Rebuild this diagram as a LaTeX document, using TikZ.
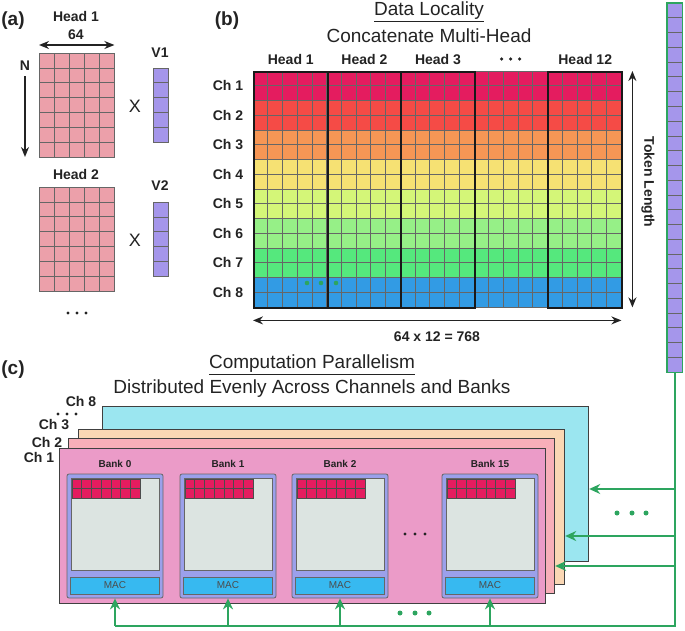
\documentclass[tikz,border=0pt]{standalone}
\usepackage{fontspec}
\setmainfont{Liberation Sans}
\usepackage{xcolor}
\usepackage{tikz}
\definecolor{inkgray}{RGB}{35, 35, 35}
\definecolor{cellpink}{RGB}{236, 160, 170}
\definecolor{vecpurple}{RGB}{165, 150, 235}
\definecolor{linkgreen}{RGB}{45, 165, 95}
\definecolor{chA}{RGB}{228, 28, 95}
\definecolor{chB}{RGB}{245, 75, 70}
\definecolor{chC}{RGB}{246, 150, 85}
\definecolor{chD}{RGB}{246, 225, 115}
\definecolor{chE}{RGB}{212, 246, 120}
\definecolor{chF}{RGB}{150, 240, 135}
\definecolor{chG}{RGB}{85, 232, 125}
\definecolor{chH}{RGB}{50, 155, 228}
\definecolor{planecyan}{RGB}{155, 230, 240}
\definecolor{planepeach}{RGB}{250, 215, 180}
\definecolor{planerose}{RGB}{248, 175, 185}
\definecolor{planemagenta}{RGB}{235, 155, 200}
\definecolor{banklav}{RGB}{155, 160, 235}
\definecolor{memgray}{RGB}{220, 228, 225}
\definecolor{macblue}{RGB}{55, 185, 240}
\usetikzlibrary{arrows.meta, positioning, calc}

\begin{document}
\begin{tikzpicture}[
    x=1pt, y=-1pt,
    tag/.style={font=\fontsize{19}{22}\selectfont\bfseries, text=inkgray, inner sep=0pt},
    lbl/.style={font=\fontsize{14}{16}\selectfont\bfseries, text=inkgray, inner sep=1pt},
    title/.style={font=\fontsize{19}{22}\selectfont, text=inkgray, inner sep=0pt},
    cell/.style={draw=black!60, line width=0.6pt},
    mat/.style={inner sep=0pt, minimum width=75pt, minimum height=104pt, anchor=north west},
    headblk/.style={draw=black!90, line width=2pt, inner sep=0pt, minimum width=73.6pt, minimum height=236pt, anchor=north west},
    plane/.style={draw=black!75, line width=1.2pt, minimum width=486pt, minimum height=155pt, anchor=north west, inner sep=0pt},
    bank/.style={draw=black!60, fill=banklav, rounded corners=2pt, line width=0.8pt, minimum width=96pt, minimum height=124pt, inner sep=0pt},
    banktitle/.style={font=\fontsize{10}{12}\selectfont\bfseries, text=inkgray, inner sep=0pt},
    mac/.style={draw=black!60, fill=macblue, line width=0.6pt, minimum width=89pt, minimum height=17pt, inner sep=0pt, font=\fontsize{10}{12}\selectfont, text=black!70},
    sarrow/.style={-{Stealth[length=10pt,width=8pt]}, line width=1.6pt, inkgray},
    darrow/.style={{Stealth[length=10pt,width=8pt]}-{Stealth[length=10pt,width=8pt]}, line width=1.6pt, inkgray},
    feed/.style={-{Stealth[length=11pt,width=10pt]}, line width=2pt, linkgreen},
    bus/.style={line width=2pt, linkgreen}
]
    \useasboundingbox (0,0) rectangle (685,631);

    % (a) per-head products
    \node[tag] (tagA) at (13,21) {(a)};
    \foreach \k/\ty/\top/\vy/\vtop in {1/16/53/53/68, 2/174/187/186/202} {
        \node[lbl] (headA\k) at (76,\ty) {Head \k};
        \node[mat] (mat\k) at (39,\top) {};
        \foreach \i in {0,...,4}
            \foreach \j in {0,...,6}
                \draw[cell, fill=cellpink] ($(mat\k.north west)+({15*\i},{14.857*\j})$) rectangle +(15,14.857);
        \node[lbl] (vlbl\k) at (160,\vy) {V\k};
        \foreach \j in {0,...,4}
            \draw[cell, fill=vecpurple] (153,{\vtop+14.8*\j}) rectangle +(15,14.8);
        \node[font=\fontsize{18}{20}\selectfont, text=inkgray] (times\k) at (135,{\vtop+38}) {X};
    }
    \node[lbl] (dimA) at (76,35) {64};
    \draw[darrow] ([yshift=8pt]mat1.north west) -- ([yshift=8pt]mat1.north east);
    \node[lbl] (nlbl) at (25,66) {N};
    \coordinate (nend) at (25,157);
    \draw[sarrow, shorten <=4pt] (nlbl) -- (nend);
    \foreach \x in {68,77,86}
        \fill[inkgray] (\x,313) circle (1.6);

    % (b) concatenated heads
    \node[tag] (tagB) at (227,21) {(b)};
    \node[title] (titleB) at (429,12) {\underline{Data Locality}};
    \node[title] (subB) at (429,36) {Concatenate Multi-Head};
    \node[inner sep=0pt, minimum width=368pt, minimum height=236pt, anchor=north west] (grid) at (253,71) {};
    \foreach \c/\col [count=\n] in {0/chA, 1/chB, 2/chC, 3/chD, 4/chE, 5/chF, 6/chG, 7/chH} {
        \node[lbl] (chlbl\n) at (228,{85.75+29.5*\c}) {Ch \n};
        \foreach \i in {0,...,24}
            \foreach \r in {0,1}
                \draw[cell, fill=\col] ($(grid.north west)+({14.72*\i},{29.5*\c+14.75*\r})$) rectangle +(14.72,14.75);
    }
    \foreach \k/\name in {0/Head 1, 1/Head 2, 2/Head 3, 4/Head 12} {
        \node[headblk] (blk\k) at ($(grid.north west)+({73.6*\k},0)$) {};
        \node[lbl, above=5pt of blk\k] (blklbl\k) {\name};
    }
    \foreach \x in {-9,0,9}
        \fill[inkgray] ($(grid.north west)+({73.6*3.5+\x},-12)$) circle (1.8);
    \foreach \x in {307,321,336}
        \fill[linkgreen] (\x,283) circle (2.3);
    \draw[darrow] ([xshift=11pt]grid.north east) -- ([xshift=11pt]grid.south east);
    \node[lbl, rotate=-90] (tokenlbl) at (648,182) {Token Length};
    \draw[darrow] ([yshift=-13pt]grid.south west) -- ([yshift=-13pt]grid.south east);
    \node[lbl] (widthlbl) at (437,337) {64 x 12 = 768};

    % input vector
    \node[inner sep=0pt, minimum width=15pt, minimum height=369pt, fill=vecpurple, anchor=north west] (vec) at (667,3) {};
    \foreach \i in {1,...,24}
        \draw[cell] ($(vec.north west)+(0,{14.76*\i})$) -- ++(15,0);
    \draw[linkgreen, line width=1.6pt] (vec.north west) rectangle (vec.south east);

    % (c) channels and banks
    \node[tag] (tagC) at (13,370) {(c)};
    \node[title] (titleC) at (312,365) {\underline{Computation Parallelism}};
    \node[title] (subC) at (312,389) {Distributed Evenly Across Channels and Banks};
    \node[plane, fill=planecyan] (p8) at (102,406) {};
    \node[plane, fill=planepeach] (p3) at (78,429) {};
    \node[plane, fill=planerose] (p2) at (68,438) {};
    \node[plane, fill=planemagenta] (p1) at (59,448) {};
    \node[lbl] (plbl8) at (81,401) {Ch 8};
    \node[lbl] (plbl3) at (54,425) {Ch 3};
    \node[lbl] (plbl2) at (47,442) {Ch 2};
    \node[lbl] (plbl1) at (39,457) {Ch 1};
    \foreach \x in {58,67,76}
        \fill[inkgray] (\x,414) circle (1.6);

    \foreach \b/\x/\l in {b0/115/0, b1/228/1, b2/340/2, b15/490/15} {
        \node[banktitle] (\b-title) at (\x,464) {Bank \l};
        \node[bank] (\b) at (\x,536) {};
        \fill[memgray] (\x-44,478) rectangle (\x+44,570);
        \draw[black!60, line width=0.6pt] (\x-44,478) rectangle (\x+44,570);
        \foreach \i in {0,...,6}
            \foreach \j in {0,1}
                \draw[cell, draw=black!70, fill=chA] ({\x-43+9.7*\i},{479+9.7*\j}) rectangle +(9.7,9.7);
        \node[mac] (\b-mac) at (\x,585.5) {MAC};
    }
    \foreach \x in {405,415,425}
        \fill[inkgray] (\x,534) circle (1.6);

    % feed lines
    \coordinate (tap8) at (674.5,489);
    \coordinate (tap3) at (674.5,536);
    \coordinate (tap2) at (674.5,566);
    \coordinate (busy) at (674.5,626);
    \draw[bus] (vec.south) |- (busy -| b0);
    \foreach \b in {b0,b1,b2,b15}
        \draw[feed] (busy -| \b) -- (\b.south);
    \draw[feed] (tap8) -- (tap8 -| p8.east);
    \draw[feed] (tap3) -- (tap3 -| p3.east);
    \draw[feed] (tap2) -- (tap2 -| p2.east);
    \foreach \x in {617,632,646}
        \fill[linkgreen] (\x,513) circle (2.5);
    \foreach \x in {400,415,429}
        \fill[linkgreen] (\x,613) circle (2.5);
\end{tikzpicture}
\end{document}
